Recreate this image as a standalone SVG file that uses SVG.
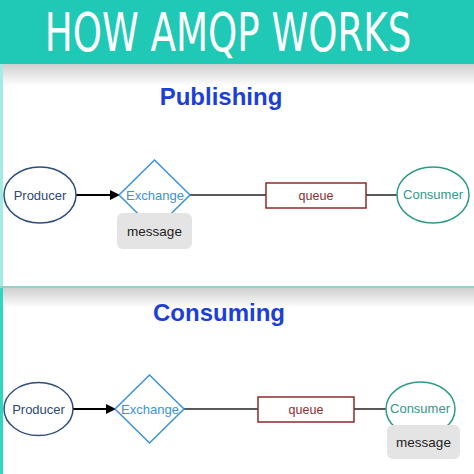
<svg xmlns="http://www.w3.org/2000/svg" width="474" height="474" viewBox="0 0 474 474">
<defs>
<linearGradient id="shadow" x1="0" y1="0" x2="0" y2="1">
<stop offset="0" stop-color="#cfcfcf"/>
<stop offset="1" stop-color="#ffffff"/>
</linearGradient>
<marker id="arrow" viewBox="0 0 10 10" refX="9" refY="5" markerWidth="5.5" markerHeight="5" orient="auto" markerUnits="strokeWidth">
<path d="M0,0 L10,5 L0,10 z" fill="#000"/>
</marker>
<style>
text{font-family:"Liberation Sans",Arial,sans-serif;text-anchor:middle}
.title{font-size:24px;font-weight:bold;fill:#1c3fd8}
.prod ellipse{fill:#fff;stroke:#2d4e7a;stroke-width:1.5}
.prod text{fill:#2d4a74;font-size:13px}
.exch polygon{fill:#fff;stroke:#3b92d8;stroke-width:1.5}
.exch text{fill:#3b92d8;font-size:13px}
.queue rect{fill:#fff;stroke:#8c2b2b;stroke-width:1.5}
.queue text{fill:#8c2b2b;font-size:12.5px}
.cons ellipse{fill:#fff;stroke:#2e9a88;stroke-width:1.5}
.cons text{fill:#2e9a88;font-size:13px}
.msg rect{fill:#e4e4e4}
.msg text{fill:#222;font-size:13.5px}
.link{stroke:#222;stroke-width:1.5;fill:none}
.arr{stroke:#000;stroke-width:2;fill:none}
</style>
</defs>
<rect width="474" height="474" fill="#fff"/>
<!-- banner -->
<rect x="0" y="0" width="474" height="64" fill="#1fc9b5"/>
<text transform="translate(228,51) scale(0.78,1)" x="0" y="0" fill="#fff" font-size="53" style="font-family:'DejaVu Sans Condensed','Liberation Sans',sans-serif">HOW AMQP WORKS</text>
<rect x="3" y="64" width="471" height="22" fill="url(#shadow)"/>
<rect x="0" y="64" width="3" height="222" fill="#a3ece3"/>
<rect x="0" y="286" width="474" height="2" fill="#8fd3c8"/>
<rect x="3" y="288" width="471" height="20" fill="url(#shadow)"/>
<rect x="0" y="288" width="3" height="186" fill="#2fd6c2"/>
<text class="title" x="221" y="105">Publishing</text>
<text class="title" x="219" y="321">Consuming</text>

<!-- connectors -->
<g id="connectors">
<line class="arr" x1="76" y1="195" x2="119" y2="195" marker-end="url(#arrow)"/>
<line class="link" x1="190" y1="195" x2="266" y2="195"/>
<line class="link" x1="366" y1="195" x2="397" y2="195"/>
<line class="arr" x1="73" y1="409" x2="115" y2="409" marker-end="url(#arrow)"/>
<line class="link" x1="184" y1="409" x2="258" y2="409"/>
<line class="link" x1="354" y1="409" x2="386" y2="409"/>
</g>

<!-- publishing -->
<g id="pub-producer" class="prod"><ellipse cx="40" cy="195" rx="36" ry="28"/><text x="40" y="200">Producer</text></g>
<g id="pub-exchange" class="exch"><polygon points="154.5,160 190,195 154.5,230 119,195"/><text x="155" y="200">Exchange</text></g>
<g id="pub-message" class="msg"><rect x="117" y="213" width="75" height="36" rx="6"/><text x="154.5" y="236">message</text></g>
<g id="pub-queue" class="queue"><rect x="266" y="183" width="100" height="25"/><text x="316" y="200">queue</text></g>
<g id="pub-consumer" class="cons"><ellipse cx="433" cy="195" rx="36" ry="28"/><text x="433" y="199">Consumer</text></g>

<!-- consuming -->
<g id="con-producer" class="prod"><ellipse cx="38.5" cy="409" rx="34.5" ry="26.5"/><text x="38.5" y="414">Producer</text></g>
<g id="con-exchange" class="exch"><polygon points="149.5,375 184,409 149.5,443 115,409"/><text x="150" y="414">Exchange</text></g>
<g id="con-queue" class="queue"><rect x="258" y="397" width="96" height="25"/><text x="306" y="414">queue</text></g>
<g id="con-consumer" class="cons"><ellipse cx="420.5" cy="409" rx="34.5" ry="27"/><text x="420" y="413">Consumer</text></g>
<g id="con-message" class="msg"><rect x="387" y="425" width="73" height="34" rx="6"/><text x="423.5" y="447">message</text></g>
</svg>
